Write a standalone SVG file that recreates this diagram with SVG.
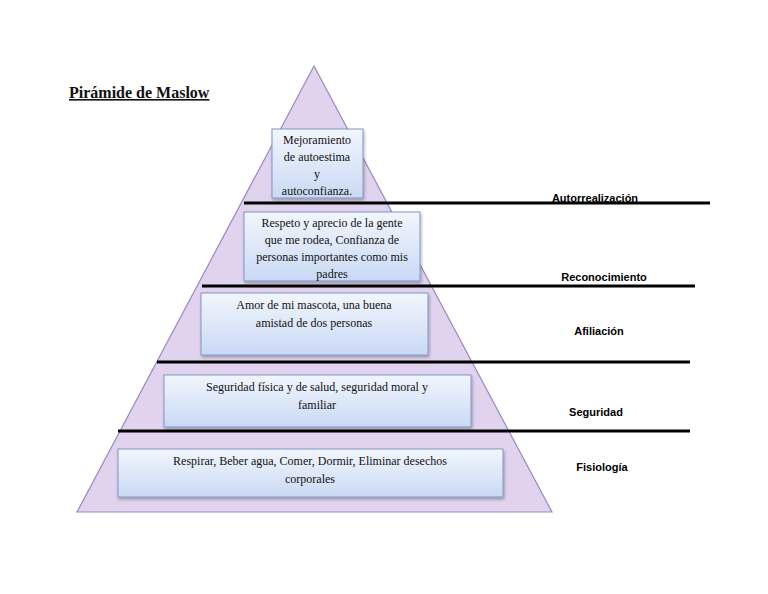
<svg xmlns="http://www.w3.org/2000/svg" width="768" height="594" viewBox="0 0 768 594">
<defs>
<linearGradient id="bg" x1="0" y1="0" x2="0" y2="1"><stop offset="0" stop-color="#f2f6fd"/><stop offset="1" stop-color="#c9d9f4"/></linearGradient>
<filter id="sh" x="-10%" y="-10%" width="120%" height="130%"><feDropShadow dx="1" dy="2" stdDeviation="1.5" flood-color="#000" flood-opacity="0.3"/></filter>
</defs>
<style>
.box{fill:url(#bg);stroke:#7d97c7;stroke-width:1;filter:url(#sh)}
.t{font-family:"Liberation Serif",serif;font-size:12px;fill:#111;text-anchor:middle}
.lbl{font-family:"Liberation Sans",sans-serif;font-size:11px;font-weight:bold;fill:#000;text-anchor:middle}
.ln{stroke:#000;stroke-width:3}
</style>
<rect width="768" height="594" fill="#fff"/>
<text x="69" y="98" font-family="Liberation Serif,serif" font-size="16" font-weight="bold" text-decoration="underline" fill="#111">Pirámide de Maslow</text>
<polygon points="314,66 552,512 77,512" fill="#e1d3ee" stroke="#9b87c0" stroke-width="1.2"/>
<g id="connectors">
<line class="ln" x1="244" y1="203" x2="710" y2="203"/>
<line class="ln" x1="202" y1="286" x2="695" y2="286"/>
<line class="ln" x1="157" y1="362" x2="690" y2="362"/>
<line class="ln" x1="118" y1="431" x2="690" y2="431"/>
</g>
<g id="n1"><rect class="box" x="272" y="129" width="91" height="69"/>
<text class="t" x="317" y="144">Mejoramiento</text><text class="t" x="317" y="161">de autoestima</text><text class="t" x="317" y="178">y</text><text class="t" x="317" y="195">autoconfianza.</text></g>
<g id="n2"><rect class="box" x="244" y="212" width="176" height="69"/>
<text class="t" x="332" y="227">Respeto y aprecio de la gente</text><text class="t" x="332" y="244">que me rodea, Confianza de</text><text class="t" x="332" y="261">personas importantes como mis</text><text class="t" x="332" y="278">padres</text></g>
<g id="n3"><rect class="box" x="201" y="293" width="227" height="62"/>
<text class="t" x="314" y="309">Amor de mi mascota, una buena</text><text class="t" x="314" y="327">amistad de dos personas</text></g>
<g id="n4"><rect class="box" x="164" y="375" width="307" height="52"/>
<text class="t" x="317" y="391">Seguridad física y de salud, seguridad moral y</text><text class="t" x="317" y="409">familiar</text></g>
<g id="n5"><rect class="box" x="118" y="449" width="385" height="48"/>
<text class="t" x="310" y="465">Respirar, Beber agua, Comer, Dormir, Eliminar desechos</text><text class="t" x="310" y="483">corporales</text></g>
<g id="labels">
<text class="lbl" x="595" y="202">Autorrealización</text>
<text class="lbl" x="604" y="281">Reconocimiento</text>
<text class="lbl" x="599" y="335">Afiliación</text>
<text class="lbl" x="596" y="416">Seguridad</text>
<text class="lbl" x="602" y="471">Fisiología</text>
</g>
</svg>
